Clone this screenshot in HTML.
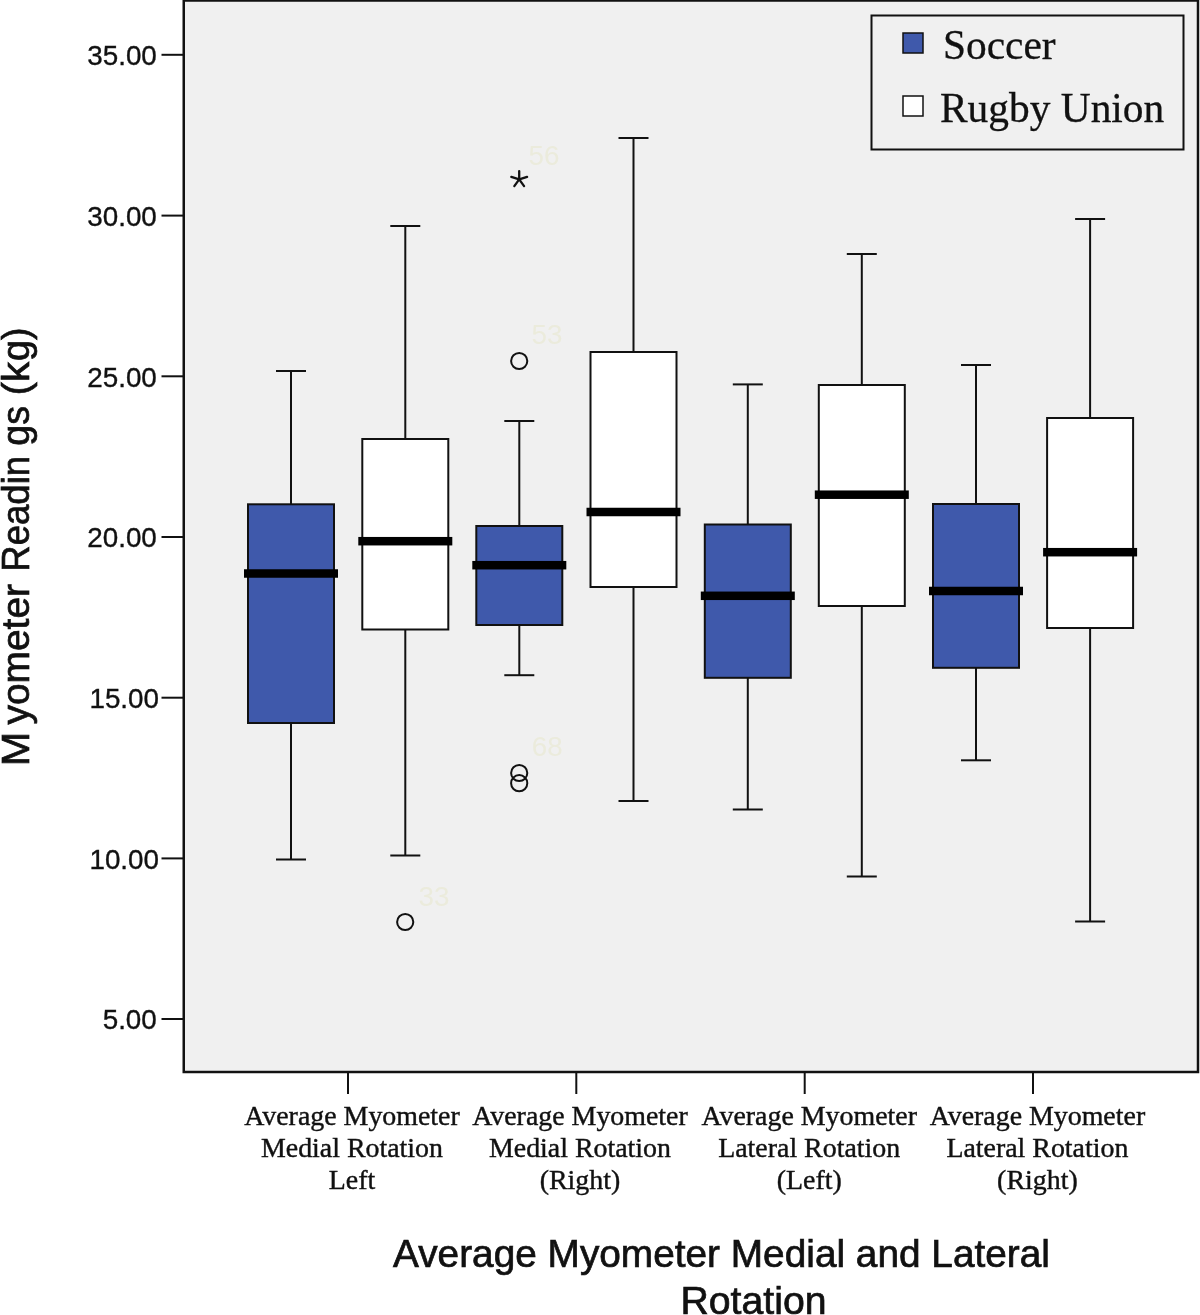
<!DOCTYPE html>
<html lang="en"><head><meta charset="utf-8"><title>Average Myometer Medial and Lateral Rotation</title>
<style>html,body{margin:0;padding:0;background:#fff}body{width:1200px;height:1315px;overflow:hidden}svg{display:block}.ax{font-family:"Liberation Sans",Arial,Helvetica,sans-serif;fill:#111}.ser{font-family:"Liberation Serif","Times New Roman",serif;fill:#111}</style></head><body>
<svg width="1200" height="1315" viewBox="0 0 1200 1315">
<rect x="0" y="0" width="1200" height="1315" fill="#fff"/>
<rect x="183.75" y="0.5" width="1014.25" height="1071.5" fill="#f0f0f0" stroke="#111" stroke-width="2.5"/>
<line x1="161.5" y1="54.8" x2="183" y2="54.8" stroke="#111" stroke-width="2"/>
<text class="ax" x="156.8" y="65.1" font-size="27.8" text-anchor="end" stroke="#111" stroke-width="0.35">35.00</text>
<line x1="161.5" y1="215.6" x2="183" y2="215.6" stroke="#111" stroke-width="2"/>
<text class="ax" x="156.8" y="225.9" font-size="27.8" text-anchor="end" stroke="#111" stroke-width="0.35">30.00</text>
<line x1="161.5" y1="376.3" x2="183" y2="376.3" stroke="#111" stroke-width="2"/>
<text class="ax" x="156.8" y="386.6" font-size="27.8" text-anchor="end" stroke="#111" stroke-width="0.35">25.00</text>
<line x1="161.5" y1="537.0" x2="183" y2="537.0" stroke="#111" stroke-width="2"/>
<text class="ax" x="156.8" y="547.3" font-size="27.8" text-anchor="end" stroke="#111" stroke-width="0.35">20.00</text>
<line x1="161.5" y1="697.7" x2="183" y2="697.7" stroke="#111" stroke-width="2"/>
<text class="ax" x="159.0" y="708.0" font-size="27.8" text-anchor="end" stroke="#111" stroke-width="0.35">15.00</text>
<line x1="161.5" y1="858.4" x2="183" y2="858.4" stroke="#111" stroke-width="2"/>
<text class="ax" x="159.0" y="868.7" font-size="27.8" text-anchor="end" stroke="#111" stroke-width="0.35">10.00</text>
<line x1="161.5" y1="1019.0" x2="183" y2="1019.0" stroke="#111" stroke-width="2"/>
<text class="ax" x="156.8" y="1029.3" font-size="27.8" text-anchor="end" stroke="#111" stroke-width="0.35">5.00</text>
<line x1="348" y1="1073" x2="348" y2="1094" stroke="#111" stroke-width="2"/>
<line x1="576.3" y1="1073" x2="576.3" y2="1094" stroke="#111" stroke-width="2"/>
<line x1="804.7" y1="1073" x2="804.7" y2="1094" stroke="#111" stroke-width="2"/>
<line x1="1033" y1="1073" x2="1033" y2="1094" stroke="#111" stroke-width="2"/>
<g stroke="#111" stroke-width="2" fill="none">
<line x1="291" y1="371" x2="291" y2="859.5"/>
<line x1="276.0" y1="371" x2="306.0" y2="371"/>
<line x1="276.0" y1="859.5" x2="306.0" y2="859.5"/>
<rect x="248.0" y="504.3" width="86" height="218.7" fill="#3f59ab"/>
</g>
<rect x="244.0" y="569.25" width="94" height="8.5" fill="#000"/>
<g stroke="#111" stroke-width="2" fill="none">
<line x1="405.3" y1="226" x2="405.3" y2="855.5"/>
<line x1="390.3" y1="226" x2="420.3" y2="226"/>
<line x1="390.3" y1="855.5" x2="420.3" y2="855.5"/>
<rect x="362.3" y="439" width="86" height="190.5" fill="#fff"/>
</g>
<rect x="358.3" y="536.95" width="94" height="8.5" fill="#000"/>
<g stroke="#111" stroke-width="2" fill="none">
<line x1="519.3" y1="421" x2="519.3" y2="675.2"/>
<line x1="504.29999999999995" y1="421" x2="534.3" y2="421"/>
<line x1="504.29999999999995" y1="675.2" x2="534.3" y2="675.2"/>
<rect x="476.29999999999995" y="526" width="86" height="99" fill="#3f59ab"/>
</g>
<rect x="472.29999999999995" y="560.95" width="94" height="8.5" fill="#000"/>
<g stroke="#111" stroke-width="2" fill="none">
<line x1="633.5" y1="138" x2="633.5" y2="801"/>
<line x1="618.5" y1="138" x2="648.5" y2="138"/>
<line x1="618.5" y1="801" x2="648.5" y2="801"/>
<rect x="590.5" y="352" width="86" height="235" fill="#fff"/>
</g>
<rect x="586.5" y="507.75" width="94" height="8.5" fill="#000"/>
<g stroke="#111" stroke-width="2" fill="none">
<line x1="747.8" y1="384.4" x2="747.8" y2="809.5"/>
<line x1="732.8" y1="384.4" x2="762.8" y2="384.4"/>
<line x1="732.8" y1="809.5" x2="762.8" y2="809.5"/>
<rect x="704.8" y="524.5" width="86" height="153.29999999999995" fill="#3f59ab"/>
</g>
<rect x="700.8" y="591.55" width="94" height="8.5" fill="#000"/>
<g stroke="#111" stroke-width="2" fill="none">
<line x1="861.8" y1="254" x2="861.8" y2="876.5"/>
<line x1="846.8" y1="254" x2="876.8" y2="254"/>
<line x1="846.8" y1="876.5" x2="876.8" y2="876.5"/>
<rect x="818.8" y="385" width="86" height="221" fill="#fff"/>
</g>
<rect x="814.8" y="490.45" width="94" height="8.5" fill="#000"/>
<g stroke="#111" stroke-width="2" fill="none">
<line x1="976" y1="365" x2="976" y2="760.3"/>
<line x1="961.0" y1="365" x2="991.0" y2="365"/>
<line x1="961.0" y1="760.3" x2="991.0" y2="760.3"/>
<rect x="933.0" y="504" width="86" height="163.79999999999995" fill="#3f59ab"/>
</g>
<rect x="929.0" y="586.75" width="94" height="8.5" fill="#000"/>
<g stroke="#111" stroke-width="2" fill="none">
<line x1="1090.1" y1="219" x2="1090.1" y2="921.5"/>
<line x1="1075.1" y1="219" x2="1105.1" y2="219"/>
<line x1="1075.1" y1="921.5" x2="1105.1" y2="921.5"/>
<rect x="1047.1" y="418" width="86" height="210" fill="#fff"/>
</g>
<rect x="1043.1" y="547.95" width="94" height="8.5" fill="#000"/>
<circle cx="405.2" cy="922" r="8.1" fill="none" stroke="#111" stroke-width="2"/>
<circle cx="519.2" cy="361" r="8.1" fill="none" stroke="#111" stroke-width="2"/>
<circle cx="519.2" cy="773" r="8.1" fill="none" stroke="#111" stroke-width="2"/>
<circle cx="519.2" cy="783.2" r="8.1" fill="none" stroke="#111" stroke-width="2"/>
<g stroke="#111" stroke-width="2.3" stroke-linecap="round">
<line x1="519.2" y1="179.4" x2="519.20" y2="171.10"/>
<line x1="519.2" y1="179.4" x2="527.09" y2="176.84"/>
<line x1="519.2" y1="179.4" x2="524.08" y2="186.11"/>
<line x1="519.2" y1="179.4" x2="514.32" y2="186.11"/>
<line x1="519.2" y1="179.4" x2="511.31" y2="176.84"/>
</g>
<text class="ax" x="528.6" y="164.5" font-size="27.8" style="fill:#ebebdc">56</text>
<text class="ax" x="531.6" y="343.5" font-size="27.8" style="fill:#ebebdc">53</text>
<text class="ax" x="531.8" y="755.5" font-size="27.8" style="fill:#ebebdc">68</text>
<text class="ax" x="418.5" y="905.5" font-size="27.8" style="fill:#ebebdc">33</text>
<rect x="871.5" y="15.5" width="312" height="134" fill="#f0f0f0" stroke="#111" stroke-width="2"/>
<rect x="903" y="33" width="20" height="20" fill="#3f59ab" stroke="#111" stroke-width="1.5"/>
<rect x="903" y="96" width="20" height="20" fill="#fff" stroke="#111" stroke-width="1.5"/>
<text class="ser" x="943" y="59" font-size="41.4" stroke="#111" stroke-width="0.3">Soccer</text>
<text class="ser" x="940" y="122" font-size="41.4" stroke="#111" stroke-width="0.3">Rugby Union</text>
<text class="ser" x="352" y="1124.5" font-size="27.9" text-anchor="middle" stroke="#111" stroke-width="0.4">Average Myometer</text>
<text class="ser" x="352" y="1156.6" font-size="27.9" text-anchor="middle" stroke="#111" stroke-width="0.4">Medial Rotation</text>
<text class="ser" x="352" y="1188.7" font-size="27.9" text-anchor="middle" stroke="#111" stroke-width="0.4">Left</text>
<text class="ser" x="580" y="1124.5" font-size="27.9" text-anchor="middle" stroke="#111" stroke-width="0.4">Average Myometer</text>
<text class="ser" x="580" y="1156.6" font-size="27.9" text-anchor="middle" stroke="#111" stroke-width="0.4">Medial Rotation</text>
<text class="ser" x="580" y="1188.7" font-size="27.9" text-anchor="middle" stroke="#111" stroke-width="0.4">(Right)</text>
<text class="ser" x="809.2" y="1124.5" font-size="27.9" text-anchor="middle" stroke="#111" stroke-width="0.4">Average Myometer</text>
<text class="ser" x="809.2" y="1156.6" font-size="27.9" text-anchor="middle" stroke="#111" stroke-width="0.4">Lateral Rotation</text>
<text class="ser" x="809.2" y="1188.7" font-size="27.9" text-anchor="middle" stroke="#111" stroke-width="0.4">(Left)</text>
<text class="ser" x="1037.4" y="1124.5" font-size="27.9" text-anchor="middle" stroke="#111" stroke-width="0.4">Average Myometer</text>
<text class="ser" x="1037.4" y="1156.6" font-size="27.9" text-anchor="middle" stroke="#111" stroke-width="0.4">Lateral Rotation</text>
<text class="ser" x="1037.4" y="1188.7" font-size="27.9" text-anchor="middle" stroke="#111" stroke-width="0.4">(Right)</text>
<text class="ax" x="393" y="1266.6" font-size="38" stroke="#111" stroke-width="0.7" textLength="657" lengthAdjust="spacingAndGlyphs">Average Myometer Medial and Lateral</text>
<text class="ax" x="680.5" y="1314.4" font-size="38" stroke="#111" stroke-width="0.7" textLength="146" lengthAdjust="spacingAndGlyphs">Rotation</text>
<text class="ax" transform="translate(29.4,0) rotate(-90)" font-size="38.3" stroke="#111" stroke-width="0.7"><tspan x="-766.3" textLength="34.4" lengthAdjust="spacingAndGlyphs">M</tspan><tspan x="-724.5" textLength="140.5" lengthAdjust="spacingAndGlyphs">yometer</tspan> <tspan x="-571.8" textLength="116" lengthAdjust="spacingAndGlyphs">Readin</tspan> <tspan x="-445.8" textLength="39.8" lengthAdjust="spacingAndGlyphs">gs</tspan> <tspan x="-395.5" textLength="33.5" lengthAdjust="spacingAndGlyphs">(k</tspan><tspan x="-361" textLength="33.5" lengthAdjust="spacingAndGlyphs">g)</tspan></text>
</svg></body></html>
